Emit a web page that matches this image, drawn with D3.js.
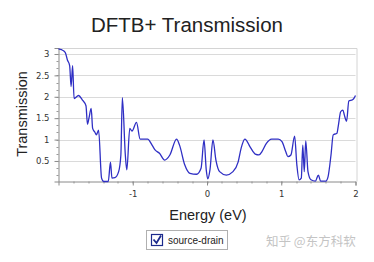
<!DOCTYPE html>
<html>
<head>
<meta charset="utf-8">
<script src="https://cdn.jsdelivr.net/npm/d3@7"></script>
<style>
  body { margin: 0; background: #fff; }
  text { font-family: "Liberation Sans", Arial, sans-serif; }
</style>
</head>
<body>
<div id="chart"></div>
<script>
const svgWidth = 374
const svgHeight = 262

// plot box in pixels
let margin = { top: 48, right: 18.5, bottom: 80.5, left: 58.5 }
let width = svgWidth - margin.left - margin.right
let height = svgHeight - margin.top - margin.bottom

// data
const energy = [
  -2.00, -1.96, -1.91, -1.88, -1.85, -1.83, -1.81, -1.79, -1.73, -1.68,
  -1.63, -1.61, -1.59, -1.56, -1.54, -1.51, -1.49, -1.46, -1.42, -1.39,
  -1.33, -1.30, -1.28, -1.24, -1.19, -1.16, -1.14, -1.10, -1.08, -1.04,
  -1.01, -0.95, -0.90, -0.80, -0.74, -0.70, -0.64, -0.57, -0.50, -0.41,
  -0.37, -0.30, -0.23, -0.14, -0.08, -0.04, -0.01, 0.01, 0.04, 0.08,
  0.12, 0.17, 0.26, 0.35, 0.42, 0.46, 0.51, 0.58, 0.62, 0.65,
  0.70, 0.74, 0.80, 0.87, 0.96, 1.01, 1.06, 1.09, 1.13, 1.18,
  1.21, 1.24, 1.27, 1.29, 1.31, 1.33, 1.36, 1.40, 1.46, 1.50,
  1.53, 1.60, 1.63, 1.67, 1.70, 1.75, 1.77, 1.80, 1.83, 1.85,
  1.88, 1.91, 1.96, 1.985, 2.00
]
const transmission = [
  3.12, 3.10, 3.04, 2.86, 2.73, 2.24, 2.73, 1.96, 2.03, 1.93,
  1.79, 1.36, 1.50, 1.73, 1.26, 1.17, 1.11, 1.22, 0.10, 0.02,
  0.02, 0.47, 0.10, 0.11, 0.25, 0.64, 1.98, 0.64, 0.29, 1.26,
  1.20, 1.40, 1.01, 1.01, 0.87, 0.76, 0.68, 0.52, 0.64, 1.01,
  0.87, 0.41, 0.21, 0.19, 0.33, 0.99, 0.29, 0.08, 0.29, 0.99,
  0.52, 0.25, 0.17, 0.25, 0.48, 0.80, 1.01, 0.83, 0.72, 0.66,
  0.64, 0.72, 0.91, 1.01, 1.01, 0.95, 0.72, 0.60, 0.64, 1.08,
  0.41, 0.06, 0.10, 0.87, 0.25, 0.97, 0.25, 0.06, 0.03, 0.17,
  0.03, 0.03, 0.13, 0.64, 1.11, 1.15, 1.34, 1.65, 1.69, 1.57,
  1.43, 1.90, 1.93, 1.98, 2.03
]
const xTicks = [-1, 0, 1, 2]
const yTicks = [0.5, 1, 1.5, 2, 2.5, 3]
const seriesName = "source-drain"

let svg = d3
  .select("#chart")
  .append("svg")
  .attr("width", svgWidth)
  .attr("height", svgHeight)

let chartGroup = svg
  .append("g")
  .attr("transform", `translate(${margin.left}, ${margin.top})`)

let xScale = d3.scaleLinear().domain([-2, 2]).range([0, width])
let yScale = d3.scaleLinear().domain([0.02, 3.14]).range([height, 0])

// grid + frame
chartGroup
  .append("g")
  .selectAll("line")
  .data(yTicks)
  .enter()
  .append("line")
  .attr("x1", 0)
  .attr("x2", width)
  .attr("y1", d => Math.round(yScale(d)) + 0.5)
  .attr("y2", d => Math.round(yScale(d)) + 0.5)
  .attr("stroke", "#dadada")

chartGroup
  .append("path")
  .attr("d", `M0,0.5H${width + 1.5}V${height}`)
  .attr("fill", "none")
  .attr("stroke", "#d4d4d4")

// minor ticks
chartGroup
  .append("g")
  .selectAll("line")
  .data(d3.range(-1.8, 2.0, 0.2))
  .enter()
  .append("line")
  .attr("x1", d => Math.round(xScale(d)) + 0.5)
  .attr("x2", d => Math.round(xScale(d)) + 0.5)
  .attr("y1", height)
  .attr("y2", height + 2)
  .attr("stroke", "#999")

chartGroup
  .append("g")
  .selectAll("line")
  .data(d3.range(1, 19).map(i => i / 6))
  .enter()
  .append("line")
  .attr("x1", -2)
  .attr("x2", 0)
  .attr("y1", d => Math.round(yScale(d)) + 0.5)
  .attr("y2", d => Math.round(yScale(d)) + 0.5)
  .attr("stroke", "#999")

// plain hyphen for negatives, like the original
let bottomAxis = d3.axisBottom(xScale).tickValues(xTicks).tickSize(4).tickPadding(5).tickFormat(d => String(d))
let leftAxis = d3.axisLeft(yScale).tickValues(yTicks).tickSize(4).tickPadding(5).tickFormat(d => String(d))

let xAxis = chartGroup
  .append("g")
  .attr("transform", `translate(0, ${height})`)
  .call(bottomAxis)

let yAxis = chartGroup.append("g").call(leftAxis)

for (let ax of [xAxis, yAxis]) {
  ax.select(".domain").attr("stroke", "#8a8a8a")
  ax.selectAll(".tick line").attr("stroke", "#8a8a8a")
  ax.selectAll("text")
    .attr("fill", "#333")
    .style("font-family", "'DejaVu Sans', sans-serif")
    .style("font-size", "8.5px")
}

// the curve
let points = energy.map((e, i) => [e, transmission[i]])

let line = d3
  .line()
  .x(d => xScale(d[0]))
  .y(d => yScale(d[1]))
  .curve(d3.curveMonotoneX)

chartGroup
  .append("path")
  .datum(points)
  .attr("d", line)
  .attr("fill", "none")
  .attr("stroke", "#2f2fc4")
  .attr("stroke-width", 1.3)
  .attr("stroke-linejoin", "round")

// titles
svg
  .append("text")
  .attr("x", 187)
  .attr("y", 32)
  .attr("text-anchor", "middle")
  .style("font-size", "20.5px")
  .attr("fill", "#222")
  .text("DFTB+ Transmission")

svg
  .append("text")
  .attr("transform", "rotate(-90)")
  .attr("x", -114)
  .attr("y", 27)
  .attr("text-anchor", "middle")
  .style("font-size", "14.5px")
  .attr("fill", "#222")
  .text("Transmission")

svg
  .append("text")
  .attr("x", 208)
  .attr("y", 220)
  .attr("text-anchor", "middle")
  .style("font-size", "14.5px")
  .attr("fill", "#222")
  .text("Energy (eV)")

// legend
let legend = svg.append("g").attr("transform", "translate(146, 230)")

legend
  .append("rect")
  .attr("x", 0.5)
  .attr("y", 0.5)
  .attr("width", 81)
  .attr("height", 19)
  .attr("fill", "#fff")
  .attr("stroke", "#b0b0b0")

legend
  .append("rect")
  .attr("x", 5.5)
  .attr("y", 4.5)
  .attr("width", 11)
  .attr("height", 11)
  .attr("fill", "#fff")
  .attr("stroke", "#1c2a8c")
  .attr("stroke-width", 1.2)

legend
  .append("path")
  .attr("d", "M7.5,9.5L10.5,13L15,5.5")
  .attr("fill", "none")
  .attr("stroke", "#1c2a8c")
  .attr("stroke-width", 1.8)

legend
  .append("text")
  .attr("x", 22)
  .attr("y", 13.5)
  .style("font-size", "10px")
  .attr("fill", "#222")
  .text(seriesName)

// watermark
svg
  .append("text")
  .attr("x", 266)
  .attr("y", 246)
  .style("font-family", "'Noto Sans CJK SC', sans-serif")
  .style("font-size", "12.5px")
  .attr("fill", "#c4c4c4")
  .text("知乎 @东方科软")
</script>
</body>
</html>
